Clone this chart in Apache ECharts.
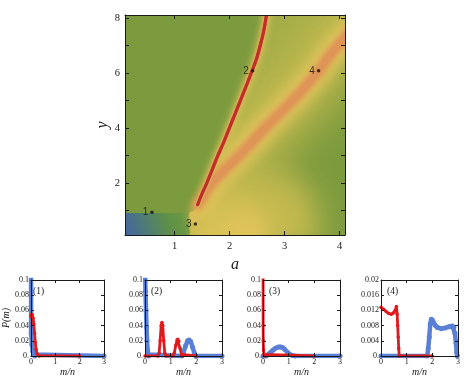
<!DOCTYPE html>
<html><head><meta charset="utf-8">
<script src="https://cdn.jsdelivr.net/npm/echarts@6/dist/echarts.min.js"></script>
<style>html,body{margin:0;padding:0;background:#fff}#c{width:474px;height:383px}</style>
</head><body><div id="c"></div>
<script>
// ---------- main map data ----------
const mainXTicks = [1, 2, 3, 4];
const mainYTicks = [1, 2, 3, 4, 5, 6, 7, 8];
const mainYLabels = [2, 4, 6, 8];
const redRidge = [[1.42,1.2],[1.5,1.6],[1.59,2.0],[1.69,2.5],[1.79,3.0],[1.9,3.5],[2.0,4.0],[2.1,4.5],[2.2,5.0],[2.3,5.5],[2.41,6.07],[2.49,6.5],[2.56,7.0],[2.62,7.5],[2.68,8.2]];
const orangeRidge = [[1.42,1.2],[1.55,1.6],[1.68,2.0],[1.93,2.5],[2.18,3.0],[2.42,3.5],[2.65,4.0],[2.9,4.5],[3.15,5.0],[3.38,5.5],[3.62,6.07],[3.85,6.7],[4.2,7.5]];
const ridgeNose = [[1.42,1.2],[1.37,0.95],[1.33,0.6]];
const glowOuter = [[1.24,-0.4],[1.3,0.8],[1.5,1.5],[2.2,2.3],[3.0,2.4],[3.5,1.6],[3.6,0.6],[3.6,-0.4]];
const glowInner = [[1.24,-0.4],[1.3,0.7],[1.45,1.2],[1.9,1.5],[2.4,1.2],[2.7,0.4],[2.7,-0.4]];
const leftEdge = [[1.36,1.0],[1.27,0.9],[1.23,-0.4],[-0.4,-0.4],[-0.4,8.6],[2.71,8.6]];
const blueCorner = [[0.05,0.05],[1.22,0.05],[1.23,0.9],[0.05,0.9]];
const markerNames = ['1', '2', '3', '4'];
const markerA = [0.59, 2.42, 1.38, 3.62];
const markerY = [0.93, 6.07, 0.5, 6.07];

// ---------- panel data ----------
const panelNames = ['(1)', '(2)', '(3)', '(4)'];
const panelYMax = [0.1, 0.1, 0.1, 0.02];
const panelYStep = [0.02, 0.02, 0.02, 0.004];
const panelXTicks = [0, 1, 2, 3];
const p1Red = [[0,0.052],[0.03,0.055],[0.06,0.054],[0.09,0.05],[0.12,0.042],[0.15,0.03],[0.18,0.018],[0.21,0.009],[0.25,0.003],[0.3,0.0005],[0.34,0],[2.0,0]];
const p1Blue = [[0,0.3],[0.01,0.03],[0.04,0.015],[0.08,0.006],[0.12,0.002],[0.16,0],[3,0]];
const p2Red = [[0,0],[0.5,0],[0.55,0.004],[0.59,0.02],[0.63,0.04],[0.66,0.044],[0.69,0.04],[0.73,0.02],[0.77,0.004],[0.82,0],[1.08,0],[1.14,0.004],[1.2,0.014],[1.25,0.021],[1.28,0.022],[1.32,0.019],[1.37,0.01],[1.42,0.002],[1.48,0],[2.0,0]];
const p2Blue = [[0,0.12],[0.02,0.085],[0.04,0.06],[0.06,0.038],[0.08,0.02],[0.1,0.008],[0.12,0.002],[0.14,0],[1.42,0],[1.5,0.005],[1.58,0.013],[1.66,0.02],[1.72,0.021],[1.78,0.019],[1.85,0.012],[1.92,0.004],[1.98,0],[3,0]];
const p3Red = [[0,0.3],[0.005,0.04],[0.01,0.02],[0.02,0.008],[0.04,0.002],[0.07,0],[2,0]];
const p3Blue = [[0,0],[0.12,0],[0.2,0.002],[0.3,0.005],[0.4,0.008],[0.5,0.0105],[0.6,0.0118],[0.68,0.012],[0.76,0.0112],[0.85,0.0085],[0.95,0.005],[1.05,0.002],[1.15,0.0005],[1.25,0],[3,0]];
const p4Red = [[0,0.0128],[0.1,0.0123],[0.2,0.0117],[0.3,0.0112],[0.4,0.011],[0.48,0.0113],[0.55,0.012],[0.6,0.013],[0.63,0.011],[0.65,0.008],[0.67,0.005],[0.69,0.002],[0.71,0],[2.0,0]];
const p4Blue = [[0,0],[1.8,0],[1.84,0.002],[1.88,0.005],[1.92,0.0085],[1.96,0.0097],[2.0,0.0095],[2.05,0.0088],[2.12,0.008],[2.2,0.0075],[2.35,0.0072],[2.5,0.0074],[2.65,0.0077],[2.78,0.0079],[2.84,0.0075],[2.88,0.006],[2.92,0.0035],[2.95,0.001],[2.97,0]];
const panelRed = [p1Red, p2Red, p3Red, p4Red];
const panelBlue = [p1Blue, p2Blue, p3Blue, p4Blue];

// ---------- build ----------
const chart = echarts.init(document.getElementById('c'));
const SERIF = 'Liberation Serif';
const ink = '#1a1a1a';
const GREEN = '#7c9b3e';

const grids = [{left:125, top:15, width:220, height:220, show:true, backgroundColor:GREEN, borderWidth:0}];
for (let i = 0; i < 4; i++) grids.push({left:27 + 118*i, top:280, width:77, height:76});

function frameAxis(opts) {
  return Object.assign({
    type:'value', splitLine:{show:false}, z:20,
    axisLine:{show:true, onZero:false, lineStyle:{color:ink, width:1}},
    axisTick:{show:true, inside:true, length:4, lineStyle:{color:ink}},
    axisLabel:{show:false}
  }, opts);
}

const xAxes = [], yAxes = [];
xAxes.push(frameAxis({gridIndex:0, position:'bottom', min:0.1, max:4.1,
  axisTick:{show:true, inside:true, length:4, lineStyle:{color:ink}, customValues:mainXTicks},
  axisLabel:{show:true, customValues:mainXTicks, fontFamily:SERIF, fontSize:10.5, color:ink, margin:6},
  name:'a', nameLocation:'middle', nameGap:8, nameTextStyle:{fontFamily:SERIF, fontStyle:'italic', fontSize:16, color:ink}}));
xAxes.push(frameAxis({gridIndex:0, position:'top', min:0.1, max:4.1,
  axisTick:{show:true, inside:true, length:4, lineStyle:{color:ink}, customValues:mainXTicks}}));
yAxes.push(frameAxis({gridIndex:0, position:'left', min:0.1, max:8.1,
  axisTick:{show:true, inside:true, length:4, lineStyle:{color:ink}, customValues:mainYTicks},
  axisLabel:{show:true, customValues:mainYLabels, fontFamily:SERIF, fontSize:10.5, color:ink, margin:5},
  name:'y', nameLocation:'middle', nameGap:14, nameTextStyle:{fontFamily:SERIF, fontStyle:'italic', fontSize:16, color:ink}}));
yAxes.push(frameAxis({gridIndex:0, position:'right', min:0.1, max:8.1,
  axisTick:{show:true, inside:true, length:4, lineStyle:{color:ink}, customValues:mainYTicks}}));

for (let i = 0; i < 4; i++) {
  const g = i + 1;
  const yt = [];
  for (let k = 0; k <= 5; k++) yt.push(+(panelYStep[i]*k).toFixed(4));
  xAxes.push(frameAxis({gridIndex:g, position:'bottom', min:0, max:3,
    axisTick:{show:true, inside:true, length:3, lineStyle:{color:ink}, customValues:panelXTicks},
    axisLabel:{show:true, customValues:panelXTicks, fontFamily:SERIF, fontSize:8, color:ink, margin:2},
    name:'m/n', nameLocation:'middle', nameGap:11, nameTextStyle:{fontFamily:SERIF, fontStyle:'italic', fontSize:10, color:ink}}));
  xAxes.push(frameAxis({gridIndex:g, position:'top', min:0, max:3,
    axisTick:{show:true, inside:true, length:3, lineStyle:{color:ink}, customValues:panelXTicks}}));
  yAxes.push(frameAxis({gridIndex:g, position:'left', min:0, max:panelYMax[i],
    axisTick:{show:true, inside:true, length:3, lineStyle:{color:ink}, customValues:yt},
    axisLabel:{show:true, customValues:yt, fontFamily:SERIF, fontSize:8, color:ink, margin:2,
      formatter: v => v === 0 ? '0.' : String(+(+v).toFixed(4))},
    name: i === 0 ? 'P(m)' : '', nameLocation:'middle', nameGap:16,
    nameTextStyle:{fontFamily:SERIF, fontStyle:'italic', fontSize:10, color:ink}}));
  yAxes.push(frameAxis({gridIndex:g, position:'right', min:0, max:panelYMax[i],
    axisTick:{show:true, inside:true, length:3, lineStyle:{color:ink}, customValues:yt}}));
}

// custom series drawing a shape through the main axes (clipped exactly to the plot)
const OFF = 1200;
function shapeSeries(points, shapeType, style, z, smooth, soft) {
  return {
    type:'custom', xAxisIndex:0, yAxisIndex:0, z:z, silent:true, clip:true,
    data: points,
    renderItem: function (params, api) {
      if (params.dataIndex !== 0) return null;
      const pts = points.map(p => { const c = api.coord(p); return soft ? [c[0] - OFF, c[1]] : c; });
      return {type:shapeType, shape:{points:pts, smooth:smooth}, style:style};
    }
  };
}
function glow(points, width, color, blur, z) {
  return shapeSeries(points, 'polyline',
    {fill:null, stroke:color, lineWidth:width, shadowBlur:blur, shadowColor:color, lineCap:'round', lineJoin:'round'}, z, 0.3, false);
}
// only the blurred shadow is visible -> smooth gradient
function softLine(points, width, color, blur, z) {
  return shapeSeries(points, 'polyline',
    {fill:null, stroke:color, lineWidth:width, shadowBlur:blur, shadowColor:color, shadowOffsetX:OFF, lineCap:'round', lineJoin:'round'}, z, 0.3, true);
}
function softBlob(points, color, blur, z) {
  return shapeSeries(points, 'polygon', {fill:color, shadowBlur:blur, shadowColor:color, shadowOffsetX:OFF}, z, 0.35, true);
}

const betweenZone = redRidge.concat([[4.3,8.3]], orangeRidge.slice().reverse());
const leftMask = redRidge.slice().reverse().concat(leftEdge);

const series = [
  shapeSeries(betweenZone, 'polygon', {fill:'#a3ad48'}, 1, 0.2, false),
  softBlob(glowOuter, 'rgba(196,186,80,1)', 30, 1),
  softBlob(glowInner, 'rgba(228,198,92,1)', 22, 1),
  softLine(orangeRidge, 72, 'rgba(200,188,80,0.85)', 36, 2),
  softLine(orangeRidge, 26, 'rgba(226,197,92,1)', 14, 2),
  shapeSeries(leftMask, 'polygon', {fill:GREEN}, 3, 0.2, false),
  shapeSeries(blueCorner, 'polygon', {fill:{type:'linear', x:0, y:1, x2:1, y2:0.1, colorStops:[
    {offset:0, color:'#4560a8'}, {offset:0.35, color:'#4c7a78'}, {offset:0.7, color:'#5f9048'}, {offset:1, color:'#6f9a42'}]}}, 3, 0, false),
  softLine(ridgeNose, 6, 'rgba(228,190,92,1)', 8, 4),
  softLine(redRidge, 8, 'rgba(214,192,88,1)', 6, 4),
  softLine(orangeRidge, 10, '#e08c56', 6, 5),
  glow(orangeRidge, 4, '#df9458', 4, 5),
  glow(redRidge, 5, '#e0b45e', 2, 6),
  glow(redRidge, 3, '#bf3029', 1, 7),
  {type:'scatter', xAxisIndex:0, yAxisIndex:0, z:10, symbolSize:3.5, itemStyle:{color:'#111'},
   data: markerNames.map((n, i) => ({name:n, value:[markerA[i], markerY[i]]})),
   label:{show:true, position:'left', distance:2, formatter:'{b}', fontFamily:'Liberation Sans', fontSize:10, color:'#111'}}
];

for (let i = 0; i < 4; i++) {
  const ax = 2 + 2*i;
  series.push({type:'line', xAxisIndex:ax, yAxisIndex:ax, data:panelBlue[i], clip:true,
    symbol:'circle', symbolSize:5, showSymbol:true, showAllSymbol:true,
    lineStyle:{width:4.5, color:'#5a7fd6'}, itemStyle:{color:'#5a7fd6'}, z:3});
  series.push({type:'line', xAxisIndex:ax, yAxisIndex:ax, data:panelRed[i], clip:true,
    symbol:'circle', symbolSize:3.5, showSymbol:true, showAllSymbol:true,
    lineStyle:{width:2.8, color:'#e01a1c'}, itemStyle:{color:'#e01a1c'}, z:4});
}

const graphics = panelNames.map((t, i) => ({type:'text', left:33 + 118*i, top:286,
  style:{text:t, fontFamily:SERIF, fontSize:9.5, fill:ink}}));

chart.setOption({animation:false, grid:grids, xAxis:xAxes, yAxis:yAxes, series:series, graphic:graphics});
</script></body></html>
